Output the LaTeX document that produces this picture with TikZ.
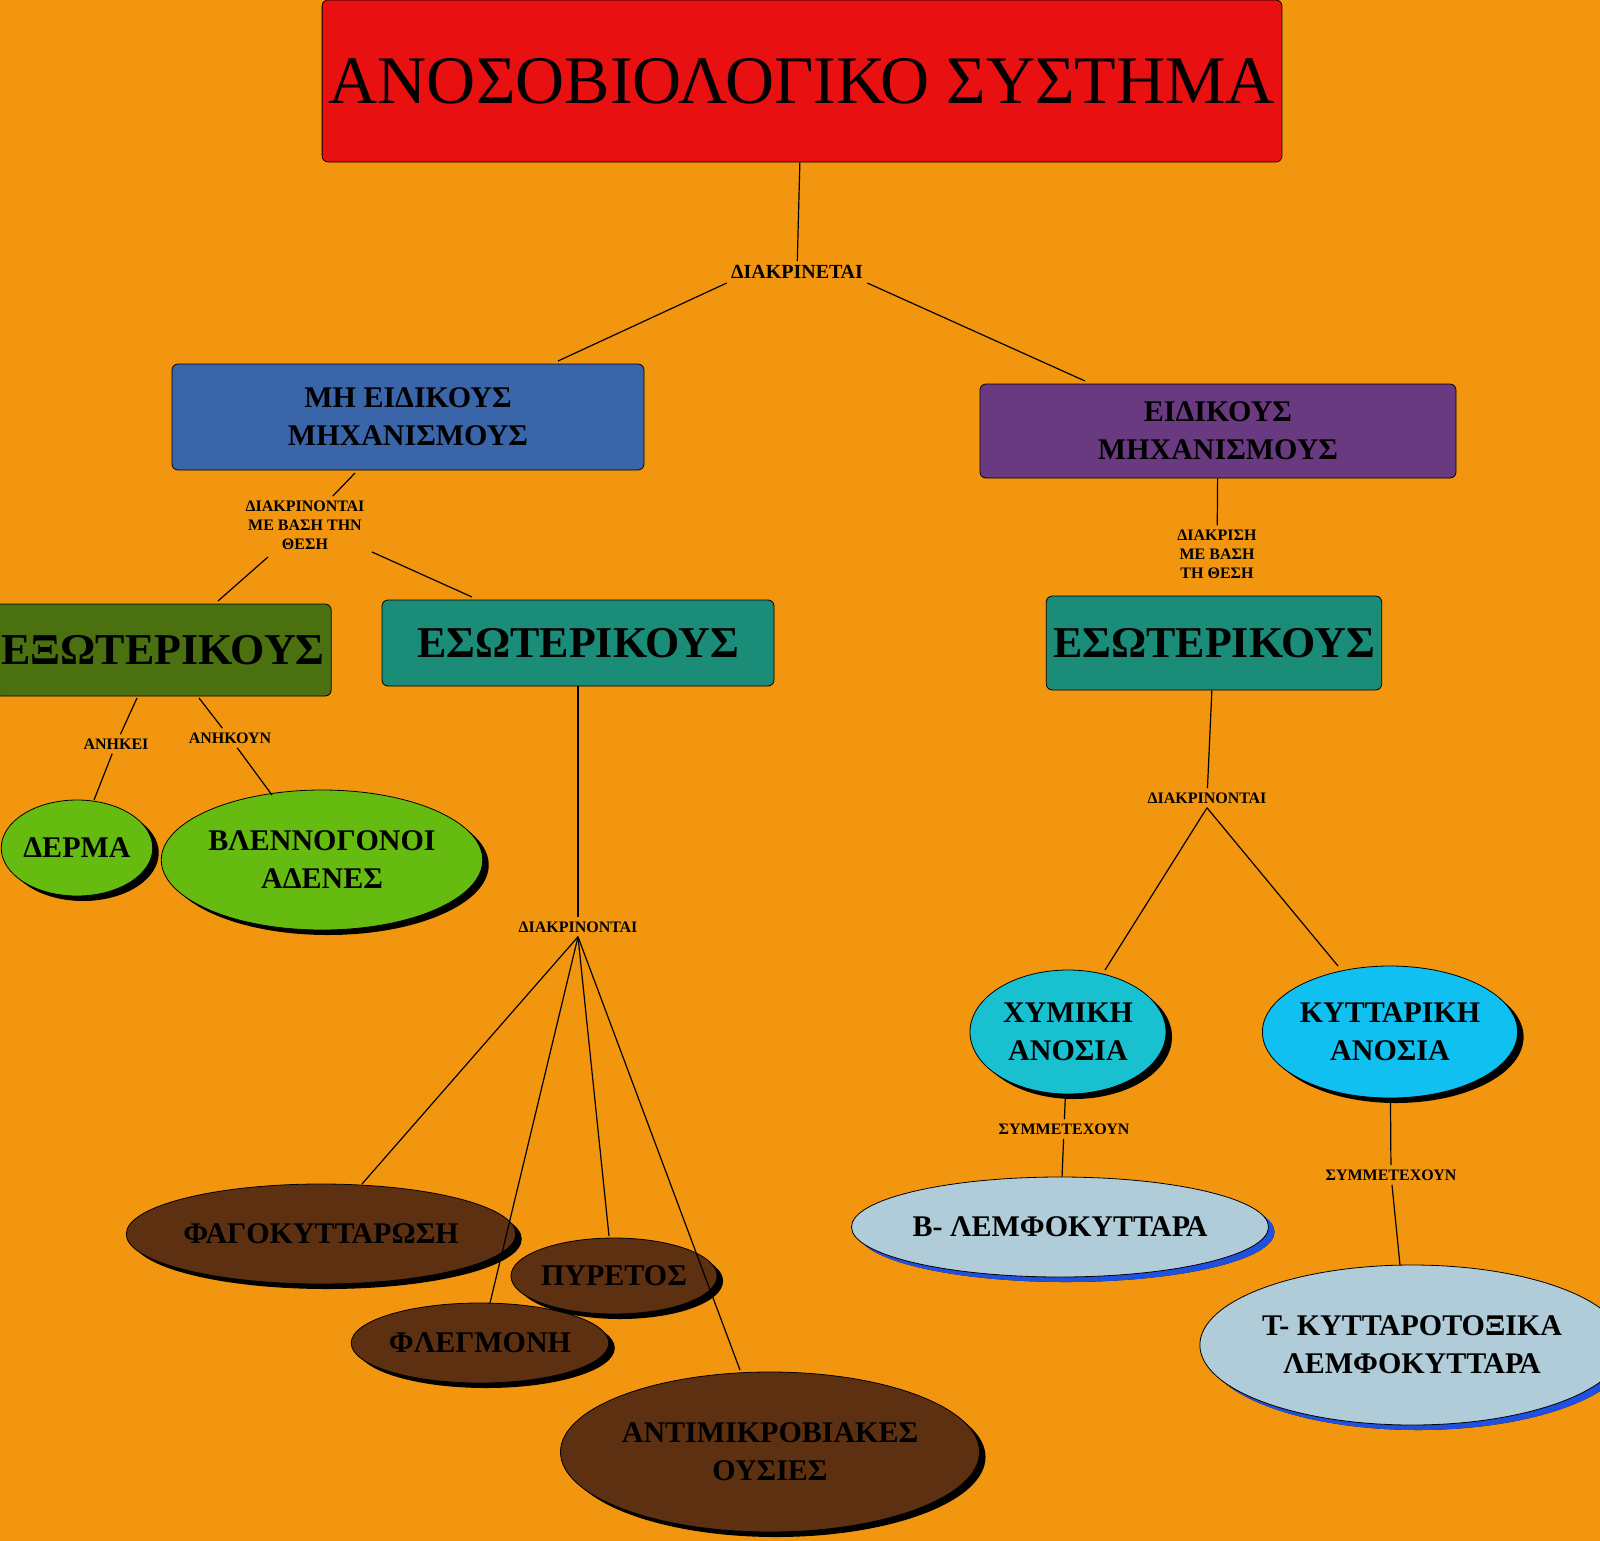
\documentclass[tikz,border=0pt]{standalone}
\usepackage{fontspec}
\setmainfont{Liberation Serif}
\usetikzlibrary{shapes.geometric, shadows, positioning}
\definecolor{bgorange}{HTML}{F2960F}
\definecolor{titlered}{HTML}{E81010}
\definecolor{boxblue}{HTML}{3A65A8}
\definecolor{boxpurple}{HTML}{6A3A80}
\definecolor{boxgreen}{HTML}{4A7010}
\definecolor{boxteal}{HTML}{1A8C78}
\definecolor{ellgreen}{HTML}{66BB10}
\definecolor{ellbrown}{HTML}{5C3010}
\definecolor{ellcyan}{HTML}{18C0D0}
\definecolor{ellsky}{HTML}{10C0F0}
\definecolor{ellpale}{HTML}{B0CCD8}
\definecolor{shblue}{HTML}{2050E0}
\tikzset{
  box/.style={draw=black, rounded corners=3pt, align=center, font=\bfseries\fontsize{15}{19}\selectfont},
  bigbox/.style={box, font=\bfseries\fontsize{22}{26}\selectfont},
  oval/.style={ellipse, draw=black, align=center, inner sep=0pt, font=\bfseries\fontsize{15}{19}\selectfont,
    drop shadow={fill=black, opacity=1, shadow xshift=3pt, shadow yshift=-2.5pt}},
  paleoval/.style={oval, drop shadow={fill=shblue, opacity=1, shadow xshift=3pt, shadow yshift=-2.5pt}},
  tag/.style={align=center, inner sep=2pt, font=\bfseries\fontsize{8}{9.5}\selectfont},
  link/.style={draw=black, line width=0.6pt}
}
\begin{document}
\begin{tikzpicture}[x=0.5pt, y=-0.5pt]
\fill[bgorange] (0,0) rectangle (1600,1541);
\useasboundingbox (0,0) rectangle (1600,1541);

% top
\node[box, fill=titlered, minimum width=435pt, minimum height=81pt, font=\fontsize{34}{40}\selectfont]
  (title) at (802,81) {ΑΝΟΣΟΒΙΟΛΟΓΙΚΟ ΣΥΣΤΗΜΑ};
\node[tag, font=\bfseries\fontsize{10}{12}\selectfont] (split) at (797,272) {ΔΙΑΚΡΙΝΕΤΑΙ};
\node[box, fill=boxblue, minimum width=236pt, minimum height=53pt] (nonspec) at (408,417) {ΜΗ ΕΙΔΙΚΟΥΣ\\ΜΗΧΑΝΙΣΜΟΥΣ};
\node[box, fill=boxpurple, minimum width=238pt, minimum height=47pt] (spec) at (1218,431) {ΕΙΔΙΚΟΥΣ\\ΜΗΧΑΝΙΣΜΟΥΣ};
\draw[link] (title) -- (split);
\draw[link] (split.south west) -- (558,361);
\draw[link] (split.south east) -- (1085,381);

% non specific
\node[tag] (nsplit) at (305,525) {ΔΙΑΚΡΙΝΟΝΤΑΙ\\ΜΕ ΒΑΣΗ ΤΗΝ\\ΘΕΣΗ};
\node[bigbox, fill=boxgreen, minimum width=158pt, minimum height=46pt] (outer) at (163,650) {ΕΞΩΤΕΡΙΚΟΥΣ};
\node[bigbox, fill=boxteal, minimum width=196pt, minimum height=43pt] (inner) at (578,643) {ΕΣΩΤΕΡΙΚΟΥΣ};
\draw[link] (355,473) -- (nsplit);
\draw[link] (268,557) -- (218,601);
\draw[link] (372,552) -- (472,597);

\node[tag] (bel1) at (116,744) {ΑΝΗΚΕΙ};
\node[tag] (bel2) at (230,738) {ΑΝΗΚΟΥΝ};
\node[oval, fill=ellgreen, minimum width=75pt, minimum height=48pt] (skin) at (77,848) {ΔΕΡΜΑ};
\node[oval, fill=ellgreen, minimum width=137pt, minimum height=70pt] (mucus) at (322,860) {ΒΛΕΝΝΟΓΟΝΟΙ\\ΑΔΕΝΕΣ};
\draw[link] (137,698) -- (bel1);
\draw[link] (bel1) -- (94,800);
\draw[link] (199,698) -- (bel2);
\draw[link] (bel2) -- (272,795);

\node[tag] (isplit) at (578,927) {ΔΙΑΚΡΙΝΟΝΤΑΙ};
\node[oval, fill=ellbrown, minimum width=155pt, minimum height=50pt] (phago) at (321,1234) {ΦΑΓΟΚΥΤΤΑΡΩΣΗ};
\node[oval, fill=ellbrown, minimum width=87pt, minimum height=38pt] (fever) at (614,1276) {ΠΥΡΕΤΟΣ};
\node[oval, fill=ellbrown, minimum width=105pt, minimum height=40pt] (inflam) at (480,1343) {ΦΛΕΓΜΟΝΗ};
\node[oval, fill=ellbrown, minimum width=174pt, minimum height=80pt] (antimic) at (770,1452) {ΑΝΤΙΜΙΚΡΟΒΙΑΚΕΣ\\ΟΥΣΙΕΣ};
\draw[link] (inner) -- (isplit);
\draw[link] (isplit.south) -- (362,1184);
\draw[link] (isplit.south) -- (490,1303);
\draw[link] (isplit.south) -- (609,1236);
\draw[link] (isplit.south) -- (740,1370);

% specific
\node[tag] (ssplit) at (1217,554) {ΔΙΑΚΡΙΣΗ\\ΜΕ ΒΑΣΗ\\ΤΗ ΘΕΣΗ};
\node[bigbox, fill=boxteal, minimum width=162pt, minimum height=47pt] (sinner) at (1214,643) {ΕΣΩΤΕΡΙΚΟΥΣ};
\draw[link] (spec) -- (ssplit);
\node[tag] (rsplit) at (1207,798) {ΔΙΑΚΡΙΝΟΝΤΑΙ};
\draw[link] (sinner) -- (rsplit);
\node[oval, fill=ellcyan, minimum width=98pt, minimum height=62pt] (humor) at (1068,1032) {ΧΥΜΙΚΗ\\ΑΝΟΣΙΑ};
\node[oval, fill=ellsky, minimum width=118pt, minimum height=66pt] (cell) at (1390,1032) {ΚΥΤΤΑΡΙΚΗ\\ΑΝΟΣΙΑ};
\draw[link] (rsplit.south) -- (1105,970);
\draw[link] (rsplit.south) -- (1338,966);

\node[tag] (part1) at (1064,1129) {ΣΥΜΜΕΤΕΧΟΥΝ};
\node[tag] (part2) at (1391,1175) {ΣΥΜΜΕΤΕΧΟΥΝ};
\node[paleoval, fill=ellpale, minimum width=170pt, minimum height=50pt] (bcell) at (1060,1227) {Β- ΛΕΜΦΟΚΥΤΤΑΡΑ};
\node[paleoval, fill=ellpale, minimum width=180pt, minimum height=80pt] (tcell) at (1412,1345) {Τ- ΚΥΤΤΑΡΟΤΟΞΙΚΑ\\ΛΕΜΦΟΚΥΤΤΑΡΑ};
\draw[link] (humor) -- (part1);
\draw[link] (part1) -- (bcell);
\draw[link] (cell) -- (part2);
\draw[link] (part2) -- (1400,1265);
\end{tikzpicture}
\end{document}
